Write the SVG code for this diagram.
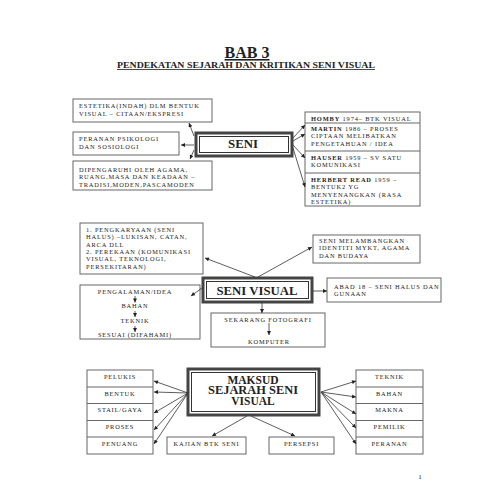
<svg xmlns="http://www.w3.org/2000/svg" width="495" height="495" viewBox="0 0 495 495">
<style>
text{font-family:"Liberation Serif","Times New Roman",serif;fill:#222}
.t{font-size:6.4px;letter-spacing:0.85px}
.c{text-anchor:middle}
.b{font-weight:bold}
.box{fill:#fff;stroke:#666;stroke-width:1}
.sep{stroke:#666;stroke-width:1}
.outer{fill:#fff;stroke:#444;stroke-width:3}
.inner{fill:none;stroke:#333;stroke-width:1}
.ln{stroke:#333;stroke-width:0.8;fill:none;marker-end:url(#a)}
</style>
<defs>
<marker id="a" viewBox="0 0 10 10" refX="10" refY="5" markerWidth="5" markerHeight="4" markerUnits="userSpaceOnUse" orient="auto">
<path d="M0,0 L10,5 L0,10 z" fill="#222"/>
</marker>
</defs>
<rect width="495" height="495" fill="#fff"/>

<g id="title">
<text x="247" y="58" class="c b" font-size="16" text-decoration="underline">BAB 3</text>
<text x="246" y="68" class="c b" font-size="8.3" textLength="258" lengthAdjust="spacingAndGlyphs" text-decoration="underline">PENDEKATAN SEJARAH DAN KRITIKAN SENI VISUAL</text>
</g>

<g id="seni">
<rect class="outer" x="196" y="133" width="96" height="23"/>
<rect class="inner" x="199.5" y="136.5" width="89" height="16"/>
<text x="243" y="148" class="c b" font-size="12" textLength="30" lengthAdjust="spacingAndGlyphs">SENI</text>
</g>
<g id="estetika">
<rect class="box" x="73" y="99" width="139" height="23"/>
<text x="79" y="108" class="t">ESTETIKA(INDAH) DLM BENTUK</text>
<text x="79" y="116" class="t">VISUAL – CITAAN/EKSPRESI</text>
</g>
<g id="peranan-psikologi">
<rect class="box" x="73" y="132" width="106" height="23"/>
<text x="79" y="141" class="t">PERANAN PSIKOLOGI</text>
<text x="79" y="149" class="t">DAN SOSIOLOGI</text>
</g>
<g id="dipengaruhi">
<rect class="box" x="73" y="161" width="139" height="29"/>
<text x="79" y="171.5" class="t">DIPENGARUHI OLEH AGAMA,</text>
<text x="79" y="179" class="t">RUANG,MASA DAN KEADAAN –</text>
<text x="79" y="186.5" class="t">TRADISI,MODEN,PASCAMODEN</text>
</g>
<g id="tokoh">
<rect class="box" x="305" y="112" width="115" height="94"/>
<line class="sep" x1="305" y1="123" x2="420" y2="123"/>
<line class="sep" x1="305" y1="151" x2="420" y2="151"/>
<line class="sep" x1="305" y1="173" x2="420" y2="173"/>
<text x="311" y="120.5" class="t"><tspan class="b">HOMBY</tspan> 1974– BTK VISUAL</text>
<text x="311" y="130.5" class="t"><tspan class="b">MARTIN</tspan> 1986 – PROSES</text>
<text x="311" y="138" class="t">CIPTAAN MELIBATKAN</text>
<text x="311" y="145.5" class="t">PENGETAHUAN / IDEA</text>
<text x="311" y="159.5" class="t"><tspan class="b">HAUSER</tspan> 1959 – SV SATU</text>
<text x="311" y="167" class="t">KOMUNIKASI</text>
<text x="311" y="182" class="t"><tspan class="b">HERBERT READ</tspan> 1959 –</text>
<text x="311" y="189.3" class="t">BENTUK2 YG</text>
<text x="311" y="196.6" class="t">MENYENANGKAN (RASA</text>
<text x="311" y="203.9" class="t">ESTETIKA)</text>
</g>

<g id="seni-visual">
<rect class="outer" x="203" y="278" width="109" height="24"/>
<rect class="inner" x="206.5" y="281.5" width="102" height="17"/>
<text x="257" y="294.5" class="c b" font-size="12.5" textLength="81" lengthAdjust="spacingAndGlyphs">SENI VISUAL</text>
</g>
<g id="pengkaryaan">
<rect class="box" x="80" y="223" width="123" height="51"/>
<text x="86" y="232" class="t">1. PENGKARYAAN (SENI</text>
<text x="86" y="239.3" class="t">HALUS) –LUKISAN, CATAN,</text>
<text x="86" y="246.6" class="t">ARCA DLL</text>
<text x="86" y="253.9" class="t">2. PEREKAAN (KOMUNIKASI</text>
<text x="86" y="261.2" class="t">VISUAL, TEKNOLOGI,</text>
<text x="86" y="268.5" class="t">PERSEKITARAN)</text>
</g>
<g id="melambangkan">
<rect class="box" x="313" y="235" width="107" height="28"/>
<text x="319" y="242.5" class="t">SENI MELAMBANGKAN</text>
<text x="319" y="250" class="t">IDENTITI MYKT, AGAMA</text>
<text x="319" y="257.5" class="t">DAN BUDAYA</text>
</g>
<g id="abad">
<rect class="box" x="327" y="278" width="114" height="24"/>
<text x="334" y="288.5" class="t">ABAD 18 – SENI HALUS DAN</text>
<text x="334" y="296" class="t">GUNAAN</text>
</g>
<g id="pengalaman">
<rect class="box" x="80" y="285" width="120" height="54"/>
<text x="135" y="294.3" class="t c">PENGALAMAN/IDEA</text>
<text x="135" y="308" class="t c">BAHAN</text>
<text x="135" y="322.5" class="t c">TEKNIK</text>
<text x="135" y="337" class="t c">SESUAI (DIFAHAMI)</text>
</g>
<g id="sekarang">
<rect class="box" x="211" y="313" width="114" height="34"/>
<text x="268" y="321.5" class="t c">SEKARANG FOTOGRAFI</text>
<text x="269" y="343.5" class="t c">KOMPUTER</text>
</g>

<g id="maksud">
<rect class="outer" x="188" y="369" width="131" height="46"/>
<rect class="inner" x="191.5" y="372.5" width="124" height="39"/>
<text x="253" y="383.5" class="c b" font-size="11.5">MAKSUD</text>
<text x="253" y="394" class="c b" font-size="11.5" textLength="90" lengthAdjust="spacingAndGlyphs">SEJARAH SENI</text>
<text x="253" y="405" class="c b" font-size="11.5">VISUAL</text>
</g>
<g id="left-list">
<rect class="box" x="87" y="370" width="66" height="84"/>
<line class="sep" x1="87" y1="387" x2="153" y2="387"/>
<line class="sep" x1="87" y1="403.5" x2="153" y2="403.5"/>
<line class="sep" x1="87" y1="420.5" x2="153" y2="420.5"/>
<line class="sep" x1="87" y1="437" x2="153" y2="437"/>
<text x="120" y="378.5" class="t c">PELUKIS</text>
<text x="120" y="395.5" class="t c">BENTUK</text>
<text x="120" y="412" class="t c">STAIL/GAYA</text>
<text x="120" y="429" class="t c">PROSES</text>
<text x="120" y="446" class="t c">PENUANG</text>
</g>
<g id="right-list">
<rect class="box" x="356" y="370" width="67" height="84"/>
<line class="sep" x1="356" y1="387" x2="423" y2="387"/>
<line class="sep" x1="356" y1="403.5" x2="423" y2="403.5"/>
<line class="sep" x1="356" y1="420.5" x2="423" y2="420.5"/>
<line class="sep" x1="356" y1="437" x2="423" y2="437"/>
<text x="389.5" y="378.5" class="t c">TEKNIK</text>
<text x="389.5" y="395.5" class="t c">BAHAN</text>
<text x="389.5" y="412" class="t c">MAKNA</text>
<text x="389.5" y="429" class="t c">PEMILIK</text>
<text x="389.5" y="446" class="t c">PERANAN</text>
</g>
<g id="kajian">
<rect class="box" x="167" y="437" width="79" height="17"/>
<text x="206.5" y="446" class="t c">KAJIAN BTK SENI</text>
</g>
<g id="persepsi">
<rect class="box" x="269" y="437" width="65" height="17"/>
<text x="301.5" y="446" class="t c">PERSEPSI</text>
</g>
<text x="420" y="479" font-size="7" class="c">1</text>

<g id="connectors">
<line class="ln" x1="194" y1="136" x2="189" y2="123"/>
<line class="ln" x1="194" y1="145" x2="181" y2="145"/>
<line class="ln" x1="194" y1="150" x2="190" y2="159"/>
<line class="ln" x1="293" y1="138" x2="305" y2="125"/>
<line class="ln" x1="293" y1="141" x2="305" y2="134"/>
<line class="ln" x1="293" y1="145" x2="305" y2="158"/>
<line class="ln" x1="293" y1="148" x2="305" y2="187"/>

<line class="ln" x1="255" y1="277" x2="205" y2="258"/>
<line class="ln" x1="258" y1="277" x2="312" y2="247"/>
<line class="ln" x1="202" y1="288" x2="191" y2="296"/>
<line class="ln" x1="313" y1="291" x2="327" y2="291"/>
<line class="ln" x1="262" y1="303" x2="262" y2="313"/>
<line class="ln" x1="135" y1="296" x2="135" y2="302.5"/>
<line class="ln" x1="135" y1="311" x2="135" y2="317"/>
<line class="ln" x1="135" y1="326" x2="135" y2="332"/>
<line class="ln" x1="269" y1="323" x2="269" y2="335"/>

<line class="ln" x1="188" y1="393" x2="154" y2="381"/>
<line class="ln" x1="188" y1="393" x2="154" y2="392"/>
<line class="ln" x1="188" y1="393" x2="154" y2="413"/>
<line class="ln" x1="188" y1="393" x2="154" y2="430"/>
<line class="ln" x1="188" y1="393" x2="154" y2="444"/>
<line class="ln" x1="321" y1="392" x2="356" y2="381"/>
<line class="ln" x1="321" y1="392" x2="356" y2="397"/>
<line class="ln" x1="321" y1="392" x2="356" y2="414"/>
<line class="ln" x1="321" y1="392" x2="356" y2="428"/>
<line class="ln" x1="321" y1="392" x2="356" y2="444"/>
<line class="ln" x1="247" y1="416" x2="212" y2="436"/>
<line class="ln" x1="251" y1="416" x2="295" y2="436"/>
</g>
</svg>
